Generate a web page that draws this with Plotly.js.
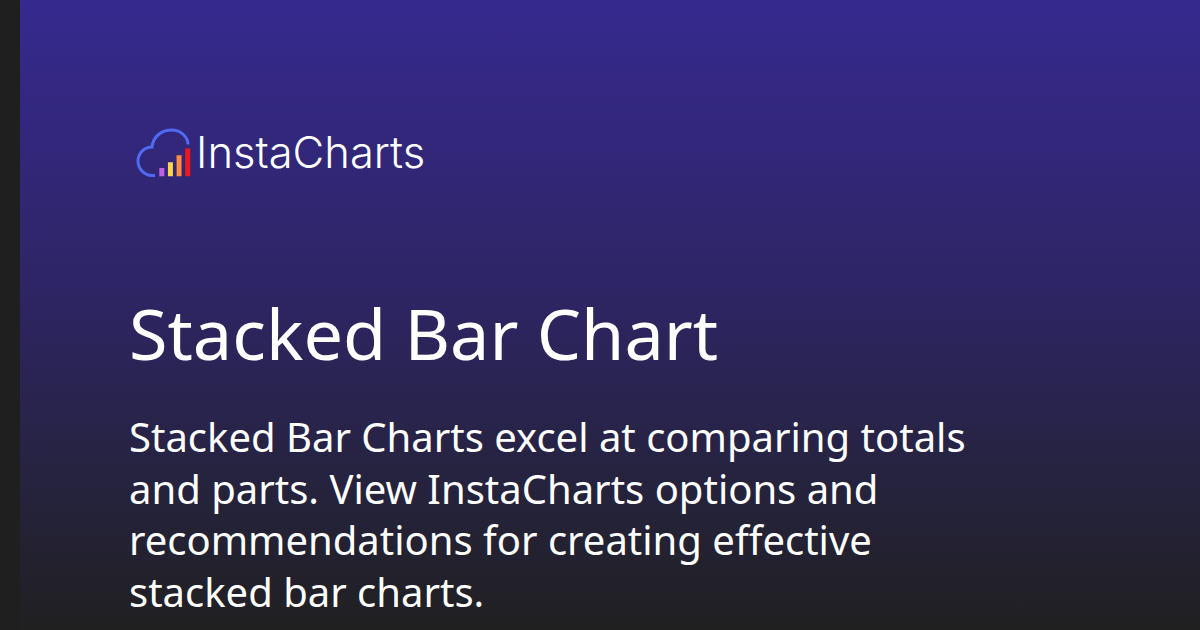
<!DOCTYPE html>
<html>
<head>
<meta charset="utf-8">
<script src="https://cdn.plot.ly/plotly-3.0.1.min.js"></script>
<style>
  html, body { margin: 0; padding: 0; width: 1200px; height: 630px; overflow: hidden; }
  body { background: linear-gradient(180deg, #36298f 0%, #2e2566 45%, #262340 75%, #202021 100%); }
  #chart { width: 1200px; height: 630px; }
</style>
</head>
<body>
<div id="chart"></div>
<script>
// ---- data ----
const logoCategories = ['a', 'b', 'c', 'd'];
const logoValues = [3, 5, 7.5, 10];
const logoColors = ['#c162e4', '#fdd44c', '#ff8b3e', '#ee171c'];
const brandName = 'InstaCharts';
const titleText = 'Stacked Bar Chart';
const bodyLines = [
  'Stacked Bar Charts excel at comparing totals',
  'and parts. View InstaCharts options and',
  'recommendations for creating effective',
  'stacked bar charts.'
];

// ---- helpers (pixel -> paper) ----
const W = 1200, H = 630;
const px = x => x / W;
const py = y => 1 - y / H;

const traces = [{
  type: 'bar',
  x: logoCategories,
  y: logoValues,
  xaxis: 'x2',
  yaxis: 'y2',
  marker: { color: logoColors, line: { width: 0 } },
  hoverinfo: 'skip',
  showlegend: false
}];

const annotations = [];
annotations.push({
  xref: 'paper', yref: 'paper', x: px(194), y: py(152),
  xanchor: 'left', yanchor: 'middle', showarrow: false,
  text: brandName,
  font: { family: 'Inter, "Noto Sans", sans-serif', size: 43.5, color: '#ffffff', weight: 300 }
});
annotations.push({
  xref: 'paper', yref: 'paper', x: px(126.5), y: py(333),
  xanchor: 'left', yanchor: 'middle', showarrow: false,
  text: titleText,
  font: { family: '"Noto Sans", "Open Sans", sans-serif', size: 70.2, color: '#ffffff' }
});
const bodyBaselines = [452, 503.5, 555, 606.5];
bodyLines.forEach((line, i) => {
  annotations.push({
    xref: 'paper', yref: 'paper', x: px(127), y: py(bodyBaselines[i] - 15.5),
    xanchor: 'left', yanchor: 'middle', showarrow: false,
    text: line,
    font: { family: '"Noto Sans", "Open Sans", sans-serif', size: 40, color: '#ffffff' }
  });
});

const cloudPath = 'M 155 175.5 L 152 175.5 C 144.3 175.5 138 168.7 138 161 ' +
  'C 138 153.3 144.3 147 152 147 C 153 137 161 130 172 130 ' +
  'C 180.8 130 188 137.2 188 144.5';

const layout = {
  width: W, height: H,
  margin: { l: 0, r: 0, t: 0, b: 0, pad: 0 },
  paper_bgcolor: 'rgba(0,0,0,0)',
  plot_bgcolor: 'rgba(0,0,0,0)',
  showlegend: false,
  xaxis: { range: [0, W], visible: false, fixedrange: true, domain: [0, 1] },
  yaxis: { range: [H, 0], visible: false, fixedrange: true, domain: [0, 1] },
  xaxis2: { domain: [px(157.5), px(192)], range: [-0.5, 3.5], visible: false, fixedrange: true, anchor: 'y2' },
  yaxis2: { domain: [py(176.5), py(148.2)], range: [0, 10], visible: false, fixedrange: true, anchor: 'x2' },
  bargap: 0.42,
  shapes: [
    { type: 'rect', xref: 'paper', yref: 'paper', x0: 0, x1: px(20), y0: 0, y1: 1,
      fillcolor: '#1f1f1f', line: { width: 0 }, layer: 'below' },
    { type: 'path', xref: 'x', yref: 'y', path: cloudPath,
      line: { color: '#4f6bf2', width: 3 }, fillcolor: 'rgba(0,0,0,0)' }
  ],
  annotations: annotations
};

Plotly.newPlot('chart', traces, layout, { displayModeBar: false, staticPlot: true });
</script>
</body>
</html>
